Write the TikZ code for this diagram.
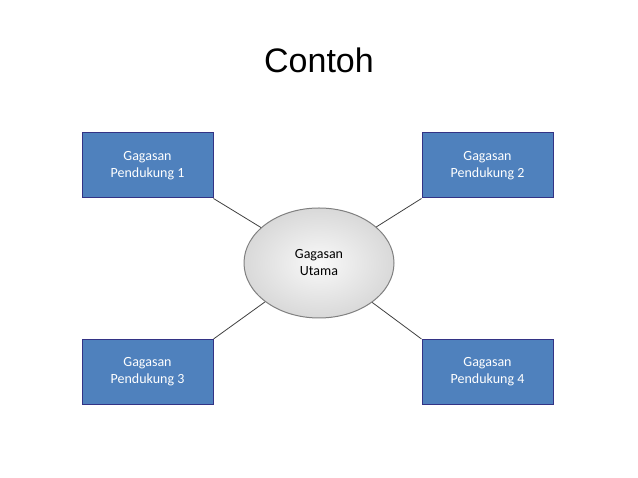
\documentclass[tikz,border=0pt]{standalone}
\usepackage{fontspec}
\setmainfont{Carlito}
\newfontfamily\titlefont{Liberation Sans}
\usetikzlibrary{shapes.geometric}
\begin{document}
\begin{tikzpicture}[x=1pt,y=1pt,
  box/.style={draw=blue!40!black!80, fill={rgb,255:red,79;green,129;blue,189}, line width=1pt, minimum width=131pt, minimum height=65pt, text=white, align=center, font=\fontsize{14}{17}\selectfont},
  conn/.style={draw=black!75, line width=0.8pt}]
\useasboundingbox (0,0) rectangle (638,478);
\node[font=\titlefont\fontsize{34}{40}\selectfont] (t) at (319,418) {Contoh};
\node[box] (b1) at (147.5,312.5) {Gagasan\\Pendukung 1};
\node[box] (b2) at (487.5,312.5) {Gagasan\\Pendukung 2};
\node[box] (b3) at (147.5,106) {Gagasan\\Pendukung 3};
\node[box] (b4) at (487.5,106) {Gagasan\\Pendukung 4};
\node[ellipse, draw=black!50, line width=1pt, inner color=gray!5, outer color=gray!30, minimum width=150pt, minimum height=110pt, align=center, font=\fontsize{14}{17}\selectfont] (e) at (319,215) {Gagasan\\Utama};
\draw[conn] (b1.south east) -- (e);
\draw[conn] (b2.south west) -- (e);
\draw[conn] (b3.north east) -- (e);
\draw[conn] (b4.north west) -- (e);
\end{tikzpicture}
\end{document}
